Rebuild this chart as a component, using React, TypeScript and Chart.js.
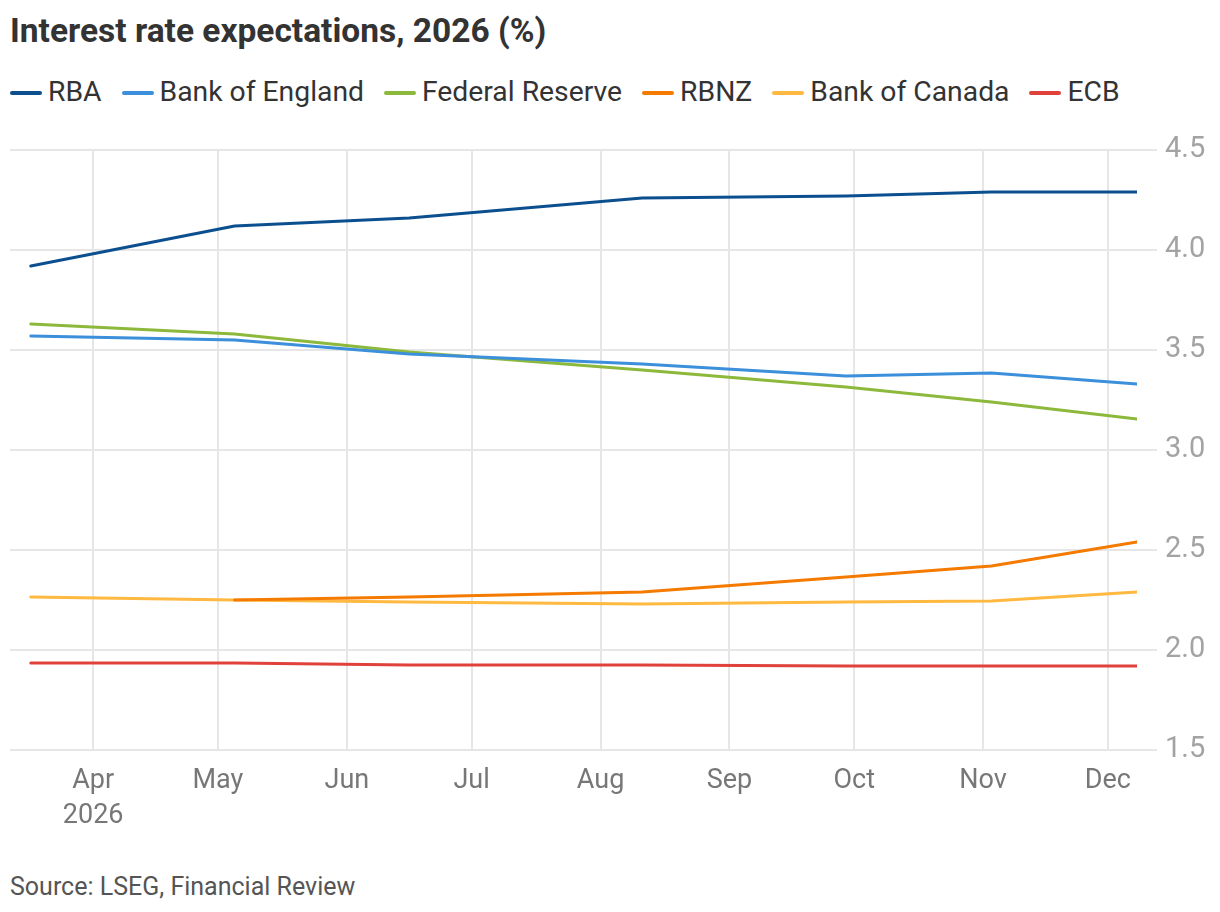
import React, { useEffect, useRef } from "react";
import { Chart, registerables } from "chart.js";

Chart.register(...registerables);

const FONT = "Roboto, 'Noto Sans', sans-serif";

// Meeting dates as day-of-year in 2026: Mar 17, May 5, Jun 16, Aug 11, Sep 29, Nov 3, Dec 8
const meetingDays = [76, 125, 167, 223, 272, 307, 342];

// First day of each month (day-of-year) used for the x ticks
const monthTickDays = [91, 121, 152, 182, 213, 244, 274, 305, 335];
const monthTickLabels = ["Apr", "May", "Jun", "Jul", "Aug", "Sep", "Oct", "Nov", "Dec"];
const yearLabel = "2026";

const yTicks = [1.5, 2.0, 2.5, 3.0, 3.5, 4.0, 4.5];

const seriesNames = ["RBA", "Bank of England", "Federal Reserve", "RBNZ", "Bank of Canada", "ECB"];
const seriesColors = ["#0b4f8f", "#3b8fdb", "#8cb83b", "#f47a00", "#ffb840", "#e0413a"];

const rba = [3.92, 4.12, 4.16, 4.26, 4.27, 4.29, 4.29];
const bankOfEngland = [3.57, 3.55, 3.48, 3.43, 3.37, 3.385, 3.33];
const federalReserve = [3.63, 3.58, 3.49, 3.4, 3.315, 3.24, 3.155];
const rbnz = [null, 2.25, 2.265, 2.29, 2.365, 2.42, 2.54];
const bankOfCanada = [2.265, 2.25, 2.24, 2.23, 2.24, 2.245, 2.29];
const ecb = [1.935, 1.935, 1.925, 1.925, 1.92, 1.92, 1.92];

const seriesValues = [rba, bankOfEngland, federalReserve, rbnz, bankOfCanada, ecb];

function toPoints(values: (number | null)[]) {
  return values
    .map((v, i) => (v === null ? null : { x: meetingDays[i], y: v }))
    .filter((p) => p !== null) as { x: number; y: number }[];
}

export default function App() {
  const canvasRef = useRef<HTMLCanvasElement | null>(null);

  useEffect(() => {
    document.body.style.margin = "0";
    const canvas = canvasRef.current;
    if (!canvas) return;

    const chart = new Chart(canvas, {
      type: "line",
      data: {
        datasets: seriesNames.map((name, i) => ({
          label: name,
          data: toPoints(seriesValues[i]),
          borderColor: seriesColors[i],
          backgroundColor: seriesColors[i],
          borderWidth: 3,
          borderCapStyle: "round",
          borderJoinStyle: "round",
          pointRadius: 0,
          tension: 0,
          fill: false,
        })),
      },
      options: {
        animation: false,
        responsive: false,
        maintainAspectRatio: false,
        layout: { padding: { left: 10, top: 30, right: 0, bottom: 0 } },
        plugins: {
          legend: { display: false },
          tooltip: { enabled: false },
        },
        scales: {
          x: {
            type: "linear",
            min: 71,
            max: 342,
            border: { display: false },
            grid: { color: "#e6e6e6", lineWidth: 2, drawTicks: false },
            afterBuildTicks: (scale: any) => {
              scale.ticks = monthTickDays.map((v) => ({ value: v }));
            },
            afterFit: (scale: any) => {
              scale.height = 100;
            },
            ticks: {
              autoSkip: false,
              maxRotation: 0,
              padding: 14,
              color: "#777777",
              font: { family: FONT, size: 27, lineHeight: 1.3 },
              callback: (value: any) => {
                const idx = monthTickDays.indexOf(Number(value));
                if (idx < 0) return "";
                return idx === 0 ? [monthTickLabels[idx], yearLabel] : monthTickLabels[idx];
              },
            },
          },
          y: {
            position: "right",
            min: 1.5,
            max: 4.5,
            border: { display: false },
            grid: { color: "#e6e6e6", lineWidth: 2, drawTicks: true, tickLength: 20 },
            afterBuildTicks: (scale: any) => {
              scale.ticks = yTicks.map((v) => ({ value: v }));
            },
            afterFit: (scale: any) => {
              scale.width = 83;
            },
            ticks: {
              padding: 8,
              color: "#a3a3a3",
              font: { family: FONT, size: 29 },
              callback: (value: any) => Number(value).toFixed(1),
            },
          },
        },
      },
    });

    return () => chart.destroy();
  }, []);

  return (
    <div style={{ position: "relative", width: 1220, height: 912, fontFamily: FONT, background: "#ffffff" }}>
      <div
        style={{
          position: "absolute",
          left: 10,
          top: 11,
          fontSize: 33.5,
          fontWeight: 700,
          color: "#333333",
          lineHeight: "40px",
          whiteSpace: "nowrap",
        }}
      >
        Interest rate expectations, 2026 (%)
      </div>
      <div
        style={{
          position: "absolute",
          left: 10,
          top: 74,
          display: "flex",
          alignItems: "center",
          fontSize: 28.3,
          color: "#333333",
          lineHeight: "36px",
          whiteSpace: "nowrap",
        }}
      >
        {seriesNames.map((name, i) => (
          <div key={name} style={{ display: "flex", alignItems: "center", marginRight: 20 }}>
            <span
              style={{
                display: "inline-block",
                width: 32,
                height: 4,
                borderRadius: 2,
                background: seriesColors[i],
                marginRight: 6,
                position: "relative",
                top: 1,
              }}
            />
            <span>{name}</span>
          </div>
        ))}
      </div>
      <div style={{ position: "absolute", left: 0, top: 120, width: 1220, height: 730 }}>
        <canvas ref={canvasRef} width={1220} height={730} style={{ display: "block" }} />
      </div>
      <div
        style={{
          position: "absolute",
          left: 10,
          top: 872,
          fontSize: 25,
          color: "#555555",
          lineHeight: "30px",
          whiteSpace: "nowrap",
        }}
      >
        Source: LSEG, Financial Review
      </div>
    </div>
  );
}
